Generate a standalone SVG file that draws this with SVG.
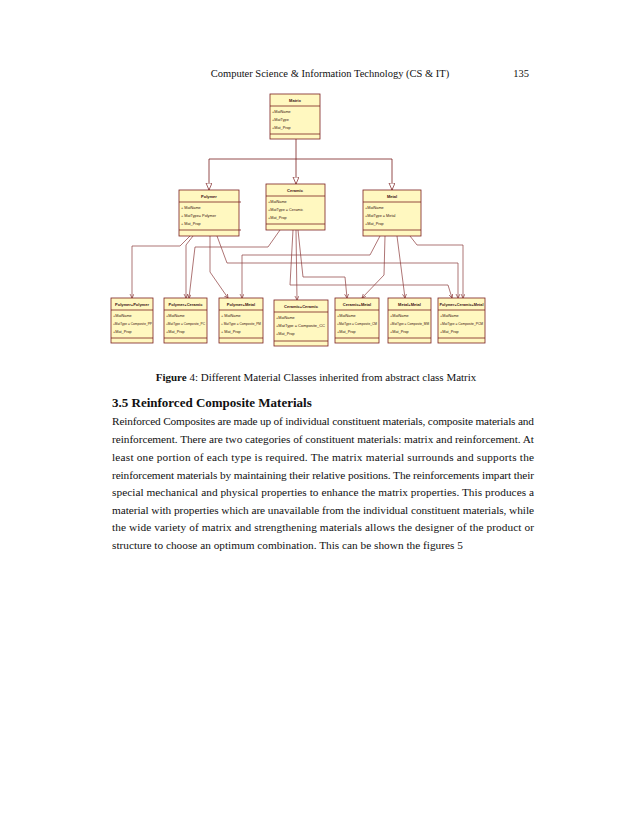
<svg xmlns="http://www.w3.org/2000/svg" width="638" height="826" viewBox="0 0 638 826">
<style>
.b{fill:#FFF8C0;stroke:#7A1E1E;stroke-width:0.8}
.l{stroke:#7A1E1E;stroke-width:0.8;fill:none}
.c{stroke:#8B3A3A;stroke-width:0.7;fill:none}
.h{font-family:"Liberation Sans",sans-serif;font-size:4px;font-weight:bold;fill:#3A1010;text-anchor:middle}
.a{font-family:"Liberation Sans",sans-serif;font-size:3.8px;fill:#3A1010}
.t{font-family:"Liberation Serif",serif;fill:#111}
</style>
<defs>
<marker id="tri" markerWidth="8" markerHeight="8" refX="7" refY="3" orient="auto" markerUnits="userSpaceOnUse"><path d="M0,0 L7,3 L0,6 Z" fill="#fff" stroke="#7A1E1E" stroke-width="0.7"/></marker>
<marker id="arr" markerWidth="6" markerHeight="6" refX="4" refY="2" orient="auto" markerUnits="userSpaceOnUse"><path d="M0,0 L4,2 L0,4" fill="none" stroke="#8B3A3A" stroke-width="0.7"/></marker>
</defs>
<text class="t" x="330" y="77" font-size="10.5" text-anchor="middle">Computer Science &amp; Information Technology (CS &amp; IT)</text>
<text class="t" x="521" y="77" font-size="10.5" text-anchor="middle">135</text>

<g id="connectors">
<path class="l" d="M296,139 V184" marker-end="url(#tri)"/>
<path class="l" d="M209,159 H392"/>
<path class="l" d="M209,159 V190" marker-end="url(#tri)"/>
<path class="l" d="M392,159 V190" marker-end="url(#tri)"/>
<path class="c" d="M190,236 L180,246 H132 V298" marker-end="url(#arr)"/>
<path class="c" d="M193,236 L186,245 V298" marker-end="url(#arr)"/>
<path class="c" d="M280,230 L268,247 H195 L189,298" marker-end="url(#arr)"/>
<path class="c" d="M210,236 V272 L228,298" marker-end="url(#arr)"/>
<path class="c" d="M217,236 L227,263 H458 V298" marker-end="url(#arr)"/>
<path class="c" d="M380,236 L370,255 H242 V298" marker-end="url(#arr)"/>
<path class="c" d="M296,230 L297,300" marker-end="url(#arr)"/>
<path class="c" d="M298,230 L303,277 H345 L347,298" marker-end="url(#arr)"/>
<path class="c" d="M293,230 L290,285 H448 L452,298" marker-end="url(#arr)"/>
<path class="c" d="M385,236 L384,275 L362,298" marker-end="url(#arr)"/>
<path class="c" d="M397,236 L405,298" marker-end="url(#arr)"/>
<path class="c" d="M410,236 L417,245 H463 V298" marker-end="url(#arr)"/>
</g>

<g id="matrix"><rect class="b" x="270" y="94" width="50" height="45"/><line class="l" x1="270" y1="106" x2="320" y2="106"/><line class="l" x1="270" y1="134" x2="320" y2="134"/><text class="h" x="295" y="102">Matrix</text><text class="a" x="272" y="113">+MatName</text><text class="a" x="272" y="121">+MatType</text><text class="a" x="272" y="129">+Mat_Prop</text></g>
<g id="polymer"><rect class="b" x="179" y="190" width="60" height="46"/><line class="l" x1="179" y1="202" x2="241" y2="202"/><line class="l" x1="179" y1="230" x2="241" y2="230"/><text class="h" x="209" y="198">Polymer</text><text class="a" x="181" y="209">+ MatName</text><text class="a" x="181" y="217">+ MatType= Polymer</text><text class="a" x="181" y="225">+ Mat_Prop</text></g>
<g id="ceramic"><rect class="b" x="266" y="184" width="59" height="46"/><line class="l" x1="266" y1="196" x2="325" y2="196"/><line class="l" x1="266" y1="224" x2="325" y2="224"/><text class="h" x="295" y="192">Ceramic</text><text class="a" x="268" y="203">+MatName</text><text class="a" x="268" y="211">+MatType = Ceramic</text><text class="a" x="268" y="219">+Mat_Prop</text></g>
<g id="metal"><rect class="b" x="363" y="190" width="58" height="46"/><line class="l" x1="363" y1="202" x2="421" y2="202"/><line class="l" x1="363" y1="230" x2="421" y2="230"/><text class="h" x="392" y="198">Metal</text><text class="a" x="365" y="209">+MatName</text><text class="a" x="365" y="217">+MatType = Metal</text><text class="a" x="365" y="225">+Mat_Prop</text></g>

<g id="pp"><rect class="b" x="111" y="298" width="42" height="45"/><line class="l" x1="111" y1="310" x2="153" y2="310"/><line class="l" x1="111" y1="338" x2="153" y2="338"/><text class="h" x="132" y="306">Polymer+Polymer</text><text class="a" x="113" y="317">+MatName</text><text class="a" x="113" y="325" textLength="39" lengthAdjust="spacingAndGlyphs">+MatType = Composite_PP</text><text class="a" x="113" y="333">+Mat_Prop</text></g>
<g id="pc"><rect class="b" x="164" y="298" width="43" height="45"/><line class="l" x1="164" y1="310" x2="207" y2="310"/><line class="l" x1="164" y1="338" x2="207" y2="338"/><text class="h" x="185.5" y="306">Polymer+Ceramic</text><text class="a" x="166" y="317">+MatName</text><text class="a" x="166" y="325" textLength="39" lengthAdjust="spacingAndGlyphs">+MatType = Composite_PC</text><text class="a" x="166" y="333">+Mat_Prop</text></g>
<g id="pm"><rect class="b" x="219" y="298" width="44" height="45"/><line class="l" x1="219" y1="310" x2="263" y2="310"/><line class="l" x1="219" y1="338" x2="263" y2="338"/><text class="h" x="241" y="306">Polymer+Metal</text><text class="a" x="221" y="317">+ MatName</text><text class="a" x="221" y="325" textLength="40" lengthAdjust="spacingAndGlyphs">+ MatType = Composite_PM</text><text class="a" x="221" y="333">+ Mat_Prop</text></g>
<g id="cc"><rect class="b" x="274" y="300" width="54" height="46"/><line class="l" x1="274" y1="312" x2="328" y2="312"/><line class="l" x1="274" y1="341" x2="328" y2="341"/><text class="h" x="301" y="308">Ceramic+Ceramic</text><text class="a" x="276" y="319">+MatName</text><text class="a" x="276" y="327" textLength="49" lengthAdjust="spacingAndGlyphs">+MatType = Composite_CC</text><text class="a" x="276" y="335">+Mat_Prop</text></g>
<g id="cm"><rect class="b" x="335" y="298" width="44" height="45"/><line class="l" x1="335" y1="310" x2="379" y2="310"/><line class="l" x1="335" y1="338" x2="379" y2="338"/><text class="h" x="357" y="306">Ceramic+Metal</text><text class="a" x="337" y="317">+MatName</text><text class="a" x="337" y="325" textLength="40" lengthAdjust="spacingAndGlyphs">+MatType = Composite_CM</text><text class="a" x="337" y="333">+Mat_Prop</text></g>
<g id="mm"><rect class="b" x="388" y="298" width="43" height="45"/><line class="l" x1="388" y1="310" x2="431" y2="310"/><line class="l" x1="388" y1="338" x2="431" y2="338"/><text class="h" x="409.5" y="306">Metal+Metal</text><text class="a" x="390" y="317">+MatName</text><text class="a" x="390" y="325" textLength="39" lengthAdjust="spacingAndGlyphs">+MatType = Composite_MM</text><text class="a" x="390" y="333">+Mat_Prop</text></g>
<g id="pcm"><rect class="b" x="438" y="298" width="47" height="45"/><line class="l" x1="438" y1="310" x2="485" y2="310"/><line class="l" x1="438" y1="338" x2="485" y2="338"/><text class="h" x="461.5" y="306" textLength="44" lengthAdjust="spacingAndGlyphs">Polymer+Ceramic+Metal</text><text class="a" x="440" y="317">+MatName</text><text class="a" x="440" y="325" textLength="43" lengthAdjust="spacingAndGlyphs">+MatType = Composite_PCM</text><text class="a" x="440" y="333">+Mat_Prop</text></g>

<text class="t" x="316" y="381" font-size="11" text-anchor="middle"><tspan font-weight="bold">Figure</tspan> 4: Different Material Classes inherited from abstract class Matrix</text>
<text class="t" x="112" y="407" font-size="13" font-weight="bold">3.5 Reinforced Composite Materials</text>
<g class="t" font-size="11.3">
<text x="112" y="425" textLength="422" lengthAdjust="spacing">Reinforced Composites are made up of individual constituent materials, composite materials and</text>
<text x="112" y="443" textLength="422" lengthAdjust="spacing">reinforcement. There are two categories of constituent materials: matrix and reinforcement. At</text>
<text x="112" y="461" textLength="422" lengthAdjust="spacing">least one portion of each type is required. The matrix material surrounds and supports the</text>
<text x="112" y="479" textLength="422" lengthAdjust="spacing">reinforcement materials by maintaining their relative positions. The reinforcements impart their</text>
<text x="112" y="496" textLength="422" lengthAdjust="spacing">special mechanical and physical properties to enhance the matrix properties. This produces a</text>
<text x="112" y="514" textLength="422" lengthAdjust="spacing">material with properties which are unavailable from the individual constituent materials, while</text>
<text x="112" y="531" textLength="422" lengthAdjust="spacing">the wide variety of matrix and strengthening materials allows the designer of the product or</text>
<text x="112" y="549">structure to choose an optimum combination. This can be shown the figures 5</text>
</g>
</svg>
